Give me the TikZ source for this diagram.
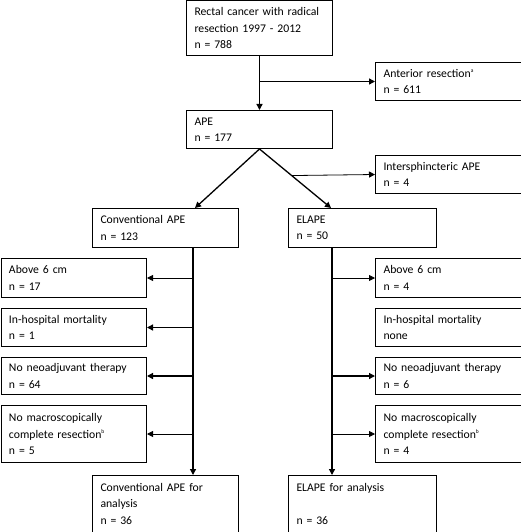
\documentclass[tikz,border=0pt]{standalone}
\usepackage{fontspec}
\setmainfont{Carlito}
\usetikzlibrary{arrows.meta,calc}
\newcommand{\supmark}[1]{\textsuperscript{\fontsize{5.5}{5.5}\selectfont #1}}
\begin{document}
\begin{tikzpicture}[x=1pt,y=-1pt,
  box/.style={draw, line width=1pt, anchor=north west, inner xsep=8pt, inner ysep=0pt,
    text width=130pt, align=left, font=\fontsize{11.7}{16.5}\selectfont},
  thickarrow/.style={line width=1.3pt, -{Triangle[length=6pt,width=6pt]}},
  thinarrow/.style={line width=0.8pt, -{Triangle[length=6pt,width=6pt]}}]
\useasboundingbox (0,0) rectangle (521,532);
% boxes
\node[box, minimum height=54.5pt] (top) at (186,0.5) {Rectal cancer with radical\\resection 1997 - 2012\\n = 788};
\node[box, minimum height=38pt, minimum width=145.5pt, text width=129.5pt] (ant) at (375,62) {Anterior resection\supmark{a}\\n = 611};
\node[box, minimum height=38pt] (ape) at (186,110) {APE\\n = 177};
\node[box, minimum height=38pt, minimum width=145.5pt, text width=129.5pt] (isp) at (375,155) {Intersphincteric APE\\n = 4};
\node[box, minimum height=39pt] (conv) at (92,208) {Conventional APE\\n = 123};
\node[box, minimum height=39pt, text width=132pt] (elape) at (288,208) {ELAPE\\n = 50};
% left column
\node[box, minimum height=39pt, text width=129.5pt] (la) at (0.5,258) {Above 6 cm\\n = 17};
\node[box, minimum height=38pt, text width=129.5pt] (lb) at (0.5,308) {In-hospital mortality\\n = 1};
\node[box, minimum height=37pt, text width=129.5pt] (lc) at (0.5,357) {No neoadjuvant therapy\\n = 64};
\node[box, minimum height=57pt, text width=129.5pt] (ld) at (0.5,405) {No macroscopically\\complete resection\supmark{b}\\n = 5};
% right column
\node[box, minimum height=39pt, text width=129.5pt] (ra) at (375,258) {Above 6 cm\\n = 4};
\node[box, minimum height=38pt, text width=129.5pt] (rb) at (375,308) {In-hospital mortality\\none};
\node[box, minimum height=37pt, text width=129.5pt] (rc) at (375,357) {No neoadjuvant therapy\\n = 6};
\node[box, minimum height=57pt, text width=129.5pt] (rd) at (375,405) {No macroscopically\\complete resection\supmark{b}\\n = 4};
% final
\node[box, minimum height=56.5pt] (lf) at (92,475) {Conventional APE for\\analysis\\n = 36};
\node[box, minimum height=56.5pt, text width=132pt] (rf) at (288,475) {ELAPE for analysis\\\mbox{}\\n = 36};
% connector coordinates
\coordinate (cin) at (195,208);
\coordinate (ein) at (331,208);
\coordinate (cout) at (193,247);
\coordinate (eout) at (332,247);
\coordinate (cfin) at (193,475);
\coordinate (efin) at (332,475);
% connectors
\draw[thickarrow] (top.south) -- (ape.north);
\draw[thickarrow] (top.south |- ant.west) -- (ant.west);
\draw[thickarrow] (ape.south) -- (cin);
\draw[thickarrow] (ape.south) -- (ein);
\draw[thinarrow] ($(ape.south)!0.45!(ein)$) -- (isp.west);
\draw[thickarrow] (cout) -- (cfin);
\draw[thickarrow] (eout) -- (efin);
\draw[thinarrow] (cout |- la.east) -- (la.east);
\draw[thickarrow] (cout |- lb.east) -- (lb.east);
\draw[thickarrow] (cout |- lc.east) -- (lc.east);
\draw[thinarrow] (cout |- ld.east) -- (ld.east);
\draw[thinarrow] (eout |- ra.west) -- (ra.west);
\draw[thickarrow] (eout |- rc.west) -- (rc.west);
\draw[thinarrow] (eout |- rd.west) -- (rd.west);
\end{tikzpicture}
\end{document}
